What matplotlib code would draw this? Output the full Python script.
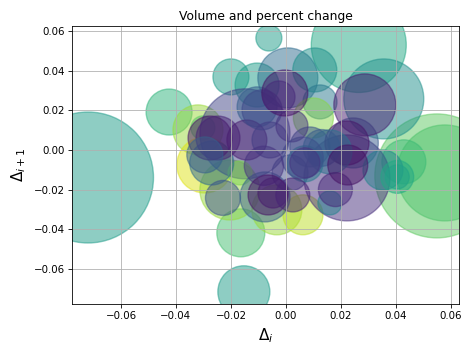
import numpy as np
import matplotlib
matplotlib.use("Agg")
import matplotlib.pyplot as plt

# delta_i (x), delta_{i+1} (y), volume-derived marker size, close-derived colour value
delta_i = [
    -0.0720, 0.0265, 0.0549, 0.0578, -0.0425, -0.0062, -0.0200, -0.0153, -0.0164,
    0.0356, 0.0429, -0.0320, -0.0302, -0.0295, -0.0204, -0.0033, 0.0062,
    -0.0105, 0.0007, 0.0105, -0.0149, -0.0105, 0.0124, 0.0222,
    -0.0167, 0.0100, -0.0270, -0.0276, -0.0229, -0.0076,
    -0.0247, -0.0142, -0.0087, -0.0058, 0.0087, 0.0015, -0.0047, 0.0022,
    0.0245, 0.0222, 0.0069, 0.0160, 0.0353, 0.0405, 0.0160, 0.0405,
    0.0060, 0.0130, -0.0080, 0.0180,
    -0.0004, 0.0287, -0.0065, 0.0025, 0.0225, 0.0069, -0.0025, -0.0295,
]
delta_next = [
    -0.0139, 0.0529, -0.0131, -0.0116, 0.0191, 0.0564, 0.0368, -0.0715, -0.0418,
    0.0257, -0.0060, 0.0101, 0.0111, -0.0076, -0.0202, -0.0302, -0.0327,
    0.0327, 0.0363, 0.0403, 0.0081, 0.0217, 0.0242, -0.0141,
    -0.0116, 0.0161, -0.0066, 0.0060, -0.0242, -0.0237,
    0.0060, 0.0050, 0.0202, 0.0050, 0.0015, -0.0116, -0.0217, 0.0121,
    0.0035, 0.0035, -0.0070, -0.0267, -0.0101, -0.0136, -0.0010, -0.0136,
    -0.0040, 0.0010, -0.0080, -0.0200,
    0.0287, 0.0227, -0.0227, -0.0227, -0.0076, -0.0065, 0.0267, -0.0025,
]
volume = [
    8896, 4678, 7971, 4778, 1097, 350, 672, 1402, 1194,
    3318, 1004, 1296, 299, 1626, 1866, 1296, 829,
    1004, 1866, 1004, 4199, 829, 599, 3834,
    299, 830, 1004, 1004, 635, 1296,
    1000, 829, 829, 672, 829, 672, 470, 530,
    1300, 1004, 672, 300, 830, 300, 1004, 560,
    900, 700, 800, 600,
    1097, 1993, 829, 599, 829, 470, 530, 672,
]
close = [
    0.55, 0.60, 0.75, 0.72, 0.65, 0.55, 0.55, 0.55, 0.70,
    0.50, 0.68, 0.85, 0.75, 0.95, 0.85, 0.85, 0.90,
    0.55, 0.35, 0.50, 0.20, 0.30, 0.40, 0.13,
    0.80, 0.82, 0.35, 0.05, 0.25, 0.30,
    0.10, 0.08, 0.22, 0.18, 0.25, 0.22, 0.10, 0.15,
    0.28, 0.05, 0.42, 0.45, 0.45, 0.55, 0.38, 0.60,
    0.20, 0.28, 0.15, 0.12,
    0.05, 0.08, 0.05, 0.10, 0.05, 0.15, 0.12, 0.30,
]

k = 0.74  # scale of the reference rendering
plt.rcParams.update({
    "font.size": 10 * k,
    "axes.linewidth": 0.8 * k,
    "grid.linewidth": 0.8 * k,
    "xtick.major.size": 3.5 * k,
    "ytick.major.size": 3.5 * k,
    "xtick.major.width": 0.8 * k,
    "ytick.major.width": 0.8 * k,
    "xtick.major.pad": 3.5 * k,
    "ytick.major.pad": 3.5 * k,
})

fig, ax = plt.subplots(figsize=(4.74, 3.55), dpi=100)
fig.subplots_adjust(left=0.152, right=0.968, top=0.927, bottom=0.144)
ax.scatter(delta_i, delta_next, c=close, s=volume, alpha=0.5,
           cmap="viridis", vmin=0, vmax=1)
ax.set_xlabel(r'$\Delta_i$', fontsize=15 * k)
ax.set_ylabel(r'$\Delta_{i+1}$', fontsize=15 * k)
ax.set_title('Volume and percent change', fontsize=12 * k, pad=6 * k)
ax.set_xlim(-0.0778, 0.0629)
ax.set_ylim(-0.0776, 0.0625)
ax.set_xticks([-0.06, -0.04, -0.02, 0.00, 0.02, 0.04, 0.06])
ax.set_yticks([-0.06, -0.04, -0.02, 0.00, 0.02, 0.04, 0.06])
ax.grid(True)
fig.savefig("out.png", dpi=100)
